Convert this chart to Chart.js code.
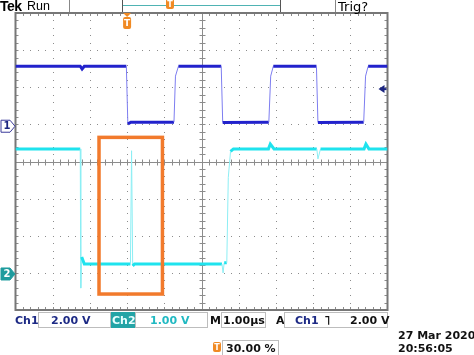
<!DOCTYPE html>
<html>
<head>
<meta charset="utf-8">
<script src="https://cdn.jsdelivr.net/npm/chart.js@4.4.0/dist/chart.umd.min.js"></script>
<style>
  body { margin: 0; background: #fff; }
  #wrap { position: relative; width: 474px; height: 355px; overflow: hidden; font-family: "DejaVu Sans", sans-serif; }
  #scope { position: absolute; left: 0; top: 0; }
  .t { position: absolute; white-space: nowrap; line-height: 1; }
  .st { font-size: 11px; font-weight: bold; }
  .box { position: absolute; border: 1px solid #bdbdbd; box-sizing: border-box; }
  .vl { position: absolute; width: 1px; background: #888; }
</style>
</head>
<body>
<div id="wrap">
  <canvas id="scope" width="474" height="355"></canvas>

  <!-- header -->
  <div class="t" style="left:0;top:-2px;font:bold 14px 'Liberation Sans';letter-spacing:-0.5px">Tek</div>
  <div class="t" style="left:27px;top:-1px;font:12.5px 'Liberation Sans'">Run</div>
  <div class="vl" style="left:69px;top:0;height:12px"></div>
  <div class="vl" style="left:122px;top:0;height:12px;background:#555"></div>
  <div class="vl" style="left:280px;top:0;height:12px;background:#555"></div>
  <div style="position:absolute;left:123px;top:5px;width:157px;height:1px;background:#4fb3b3"></div>
  <div class="t" style="left:166px;top:-1px;width:8px;height:10px;background:#f08a24;border-radius:2px;color:#fff;font:bold 8px 'DejaVu Sans';text-align:center;line-height:11px">T</div>
  <div class="vl" style="left:335px;top:0;height:12px"></div>
  <div class="t" style="left:338px;top:-1px;font:13px 'DejaVu Sans'">Trig?</div>

  <!-- status row -->
  <div class="t st" style="left:15px;top:315px;color:#1d2a85">Ch1</div>
  <div class="box" style="left:38px;top:312px;width:73px;height:16px"></div>
  <div class="t st" style="left:51px;top:315px;color:#1d2a85">2.00 V</div>
  <div style="position:absolute;left:111px;top:312px;width:25px;height:16px;background:#23a4a6"></div>
  <div class="t st" style="left:112px;top:315px;color:#e8ffff">Ch2</div>
  <div class="box" style="left:135px;top:312px;width:73px;height:16px"></div>
  <div class="t st" style="left:150px;top:315px;color:#21b9c2">1.00 V</div>
  <div class="t st" style="left:210px;top:315px;color:#111">M</div>
  <div class="box" style="left:221px;top:312px;width:45px;height:16px"></div>
  <div class="t st" style="left:223px;top:315px;color:#111">1.00µs</div>
  <div class="t st" style="left:276px;top:315px;color:#111">A</div>
  <div class="box" style="left:284px;top:312px;width:104px;height:16px"></div>
  <div class="t st" style="left:295px;top:315px;color:#1d2a85">Ch1</div>
  <div class="t" style="left:324px;top:313px;color:#111;font:bold 13px 'DejaVu Sans'">˥</div>
  <div class="t st" style="left:350px;top:315px;color:#111">2.00 V</div>

  <!-- bottom row -->
  <div class="t" style="left:213px;top:342px;width:8px;height:10px;background:#f08a24;border-radius:2px;color:#fff;font:bold 8px 'DejaVu Sans';text-align:center;line-height:11px">T</div>
  <div class="box" style="left:222px;top:340px;width:57px;height:16px"></div>
  <div class="t st" style="left:226px;top:343px;color:#111">30.00 %</div>
  <div class="t st" style="left:398px;top:330px;color:#111">27 Mar 2020</div>
  <div class="t st" style="left:398px;top:343px;color:#111">20:56:05</div>
</div>

<script>
// horizontal: 1 µs/div, trigger at 30 % of the record
const timeMin = -3;
const timeMax = 7;

// Ch1 (2 V/div), times in µs, values in V
const ch1Time  = [-3, -1.26, -1.21, -1.15, -0.02, 0.02, 0.1, 1.26, 1.3, 1.38, 2.53, 2.57, 3.81, 3.86, 3.93, 5.09, 5.13, 6.36, 6.41, 6.48, 7];
const ch1Volts = [3.23, 3.23, 3.08, 3.23, 3.23, 0.12, 0.22, 0.22, 2.7, 3.23, 3.23, 0.2, 0.22, 2.7, 3.23, 3.23, 0.2, 0.22, 2.7, 3.23, 3.23];

// Ch2 (1 V/div)
const ch2Time  = [-3, -1.26, -1.245, -1.22, -1.15, 0.09, 0.12, 0.15, 0.2, 2.55, 2.58, 2.61, 2.68, 2.72, 2.78, 2.86, 3.8, 3.85, 3.95, 5.1, 5.13, 5.2, 6.37, 6.42, 6.5, 7];
const ch2Volts = [3.37, 3.37, -0.38, 0.46, 0.27, 0.27, 3.32, 0.22, 0.27, 0.27, 0.03, 0.3, 0.3, 2.6, 3.3, 3.37, 3.37, 3.5, 3.37, 3.37, 3.1, 3.37, 3.37, 3.5, 3.37, 3.37];

// vertical ranges (8 div): ground markers sit 3.05 and 7.03 div below the top
const ch1Max = 6.1, ch1Min = ch1Max - 16;
const ch2Max = 7.03, ch2Min = ch2Max - 8;

// zoom box drawn on the capture (µs / Ch2 volts)
const boxTime = [-0.755, 0.95];
const boxVolts = [3.68, -0.54];

const triggerLevel = 2.0;

const toPoints = (xs, ys) => xs.map((x, i) => ({ x: x, y: ys[i] }));

const steep = (ctx) => Math.abs(ctx.p1.x - ctx.p0.x) < 4 && Math.abs(ctx.p1.y - ctx.p0.y) > 8;

const graticule = {
  id: 'graticule',
  beforeDatasetsDraw(chart) {
    const { ctx, chartArea } = chart;
    const { left, right, top, bottom } = chartArea;
    const xs = chart.scales.x;
    const w = right - left, h = bottom - top;
    ctx.save();
    ctx.fillStyle = '#8c8c8c';
    // dotted division lines
    for (let d = timeMin + 1; d < timeMax; d++) {
      if (d === 2) continue;
      const px = Math.round(xs.getPixelForValue(d));
      for (let k = 1; k < 40; k++) ctx.fillRect(px, Math.round(top + h * k / 40), 1, 1);
    }
    for (let d = 1; d < 8; d++) {
      if (d === 4) continue;
      const py = Math.round(top + h * d / 8);
      for (let k = 1; k < 50; k++) ctx.fillRect(Math.round(left + w * k / 50), py, 1, 1);
    }
    // centre cross with minor ticks
    ctx.strokeStyle = '#8c8c8c';
    ctx.lineWidth = 1;
    const cx = Math.round(xs.getPixelForValue(2)) + 0.5;
    const cy = Math.round(top + h / 2) + 0.5;
    ctx.beginPath();
    ctx.moveTo(cx, top); ctx.lineTo(cx, bottom);
    ctx.moveTo(left, cy); ctx.lineTo(right, cy);
    for (let k = 1; k < 50; k++) {
      const px = Math.round(left + w * k / 50) + 0.5;
      ctx.moveTo(px, cy - 3); ctx.lineTo(px, cy + 3);
      ctx.moveTo(px, top); ctx.lineTo(px, top + 3);
      ctx.moveTo(px, bottom); ctx.lineTo(px, bottom - 3);
    }
    for (let k = 1; k < 40; k++) {
      const py = Math.round(top + h * k / 40) + 0.5;
      ctx.moveTo(cx - 3, py); ctx.lineTo(cx + 3, py);
      ctx.moveTo(left, py); ctx.lineTo(left + 3, py);
      ctx.moveTo(right, py); ctx.lineTo(right - 3, py);
    }
    ctx.stroke();
    ctx.strokeStyle = '#777';
    ctx.lineWidth = 2;
    ctx.strokeRect(left, top, w, h);
    ctx.restore();
  },
  afterDatasetsDraw(chart) {
    const { ctx, chartArea } = chart;
    const xs = chart.scales.x, y1 = chart.scales.y1, y2 = chart.scales.y2;
    ctx.save();
    // orange zoom box
    ctx.strokeStyle = '#f27a2c';
    ctx.lineWidth = 3.5;
    const bx0 = xs.getPixelForValue(boxTime[0]), bx1 = xs.getPixelForValue(boxTime[1]);
    const by0 = y2.getPixelForValue(boxVolts[0]), by1 = y2.getPixelForValue(boxVolts[1]);
    ctx.strokeRect(bx0, by0, bx1 - bx0, by1 - by0);

    // trigger position marker
    const tx = xs.getPixelForValue(0);
    const t0 = chartArea.top;
    ctx.fillStyle = '#f08a24';
    ctx.beginPath();
    ctx.moveTo(tx - 4, t0); ctx.lineTo(tx + 4, t0); ctx.lineTo(tx, t0 + 4); ctx.closePath(); ctx.fill();
    ctx.beginPath();
    ctx.roundRect(tx - 4, t0 + 4, 8, 12, 2); ctx.fill();
    ctx.fillStyle = '#fff';
    ctx.font = 'bold 9px "DejaVu Sans"';
    ctx.textAlign = 'center';
    ctx.textBaseline = 'middle';
    ctx.fillText('T', tx, t0 + 10.5);

    // trigger level arrow
    const ly = y1.getPixelForValue(triggerLevel);
    const rx = chartArea.right;
    ctx.fillStyle = '#1c2680';
    ctx.beginPath();
    ctx.moveTo(rx - 9, ly); ctx.lineTo(rx - 3, ly - 4); ctx.lineTo(rx - 3, ly + 4); ctx.closePath(); ctx.fill();
    ctx.fillRect(rx - 4, ly - 1, 3, 2);

    // channel ground markers
    const mark = (y, fill, stroke, txt, txtColor) => {
      ctx.beginPath();
      ctx.moveTo(1, y - 6); ctx.lineTo(10, y - 6); ctx.lineTo(15, y); ctx.lineTo(10, y + 6); ctx.lineTo(1, y + 6); ctx.closePath();
      ctx.fillStyle = fill; ctx.fill();
      ctx.strokeStyle = stroke; ctx.lineWidth = 1; ctx.stroke();
      ctx.fillStyle = txtColor;
      ctx.font = 'bold 10px "DejaVu Sans"';
      ctx.fillText(txt, 7, y + 0.5);
    };
    mark(y1.getPixelForValue(0), '#fff', '#3a3a9a', '1', '#1c2680');
    mark(y2.getPixelForValue(0), '#1f9c9e', '#1f9c9e', '2', '#fff');
    ctx.restore();
  }
};

new Chart(document.getElementById('scope'), {
  type: 'line',
  data: {
    datasets: [
      {
        label: 'Ch2',
        data: toPoints(ch2Time, ch2Volts),
        yAxisID: 'y2',
        borderColor: '#1fe3ee',
        borderWidth: 3,
        pointRadius: 0,
        tension: 0,
        segment: {
          borderWidth: ctx => steep(ctx) ? 1 : 3,
          borderColor: ctx => steep(ctx) ? '#8ceef4' : '#1fe3ee'
        }
      },
      {
        label: 'Ch1',
        data: toPoints(ch1Time, ch1Volts),
        yAxisID: 'y1',
        borderColor: '#2222cc',
        borderWidth: 3,
        pointRadius: 0,
        tension: 0,
        segment: {
          borderWidth: ctx => steep(ctx) ? 1 : 3,
          borderColor: ctx => steep(ctx) ? '#7d7df0' : '#2222cc'
        }
      }
    ]
  },
  options: {
    responsive: false,
    animation: false,
    layout: { padding: { left: 15.5, top: 13, right: 86.5, bottom: 45 } },
    plugins: { legend: { display: false }, tooltip: { enabled: false } },
    scales: {
      x: { type: 'linear', min: timeMin, max: timeMax, display: false },
      y1: { type: 'linear', min: ch1Min, max: ch1Max, display: false },
      y2: { type: 'linear', min: ch2Min, max: ch2Max, display: false }
    }
  },
  plugins: [graticule]
});
</script>
</body>
</html>
